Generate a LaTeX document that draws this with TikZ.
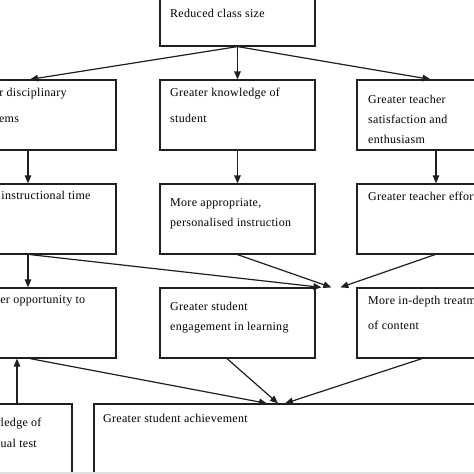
\documentclass[tikz,border=0pt]{standalone}
\usepackage{fontspec}
\setmainfont{Liberation Serif}[LetterSpace=2.5]
\usetikzlibrary{arrows.meta}
\begin{document}
\begin{tikzpicture}[x=1pt,y=-1pt,
  box/.style={draw=black!88, line width=1.2pt, minimum width=155pt, minimum height=70pt, inner sep=0pt, anchor=center},
  txt/.style={anchor=north west, inner sep=0pt, align=left, text=black},
  conn/.style={draw=black!88, line width=1.2pt, -{Triangle[length=8pt,width=6.5pt]}}]
\path[use as bounding box] (0,0) rectangle (474,474);
\clip (0,0) rectangle (474,474);
\fill[white] (0,0) rectangle (474,474);
% boxes
\node[box, minimum height=66pt] (top) at (237.5,13) {};
\node[box] (r1l) at (38.5,115) {};
\node[box] (r1m) at (237.5,115) {};
\node[box] (r1r) at (434.5,115) {};
\node[box] (r2l) at (38.5,219) {};
\node[box] (r2m) at (237.5,219) {};
\node[box] (r2r) at (434.5,219) {};
\node[box] (r3l) at (38.5,323) {};
\node[box] (r3m) at (237.5,323) {};
\node[box] (r3r) at (434.5,323) {};
\node[box, minimum height=76pt] (r4l) at (-5.5,442) {};
\node[box, minimum height=76pt, minimum width=426pt] (r4b) at (307,442) {};
% texts
\node[txt, font=\fontsize{12}{20}\selectfont] (t0) at (170,9.1) {Reduced class size};
\node[txt, font=\fontsize{12}{26}\selectfont] (t1l) at (-28,87.8) {Fewer disciplinary\\problems};
\node[txt, font=\fontsize{12}{26}\selectfont] (t1m) at (170,87.8) {Greater knowledge of\\student};
\node[txt, font=\fontsize{12}{20.3}\selectfont] (t1r) at (368,94.5) {Greater teacher\\satisfaction and\\enthusiasm};
\node[txt, font=\fontsize{12}{20}\selectfont] (t2l) at (-29,191.1) {More instructional time};
\node[txt, font=\fontsize{12}{20}\selectfont] (t2m) at (170,198.5) {More appropriate,\\personalised instruction};
\node[txt, font=\fontsize{12}{20}\selectfont] (t2r) at (368,191.8) {Greater teacher effort};
\node[txt, font=\fontsize{12}{20}\selectfont] (t3l) at (-28,295.8) {Greater opportunity to};
\node[txt, font=\fontsize{12}{20}\selectfont] (t3m) at (170,301.8) {Greater student\\engagement in learning};
\node[txt, font=\fontsize{12}{25.5}\selectfont] (t3r) at (368,295.8) {More in-depth treatment\\of content};
\node[txt, font=\fontsize{12}{21}\selectfont] (t4l) at (0.5,417.5) {\llap{Teacher know}ledge of\\\llap{individ}ual test};
\node[txt, font=\fontsize{12}{20}\selectfont] (t4b) at (103,413.5) {Greater student achievement};
% connectors
\draw[conn] (top.south) -- ([xshift=-8.5pt]r1l.north);
\draw[conn] (top.south) -- (r1m.north);
\draw[conn] (top.south) -- ([xshift=-4pt]r1r.north);
\draw[conn] ([xshift=-10.5pt]r1l.south) -- ([xshift=-10.5pt]r2l.north);
\draw[conn] (r1m.south) -- (r2m.north);
\draw[conn] ([xshift=1.5pt]r1r.south) -- ([xshift=1.5pt]r2r.north);
\draw[conn] ([xshift=-10.5pt]r2l.south) -- ([xshift=-10.5pt]r3l.north);
\draw[conn] ([xshift=-8.5pt]r2l.south) -- ([xshift=-35pt]r3r.north west);
\draw[conn] (r2m.south) -- ([xshift=-25pt]r3r.north west);
\draw[conn] ([xshift=0.5pt]r2r.south) -- ([xshift=-16pt]r3r.north west);
\draw[conn] ([xshift=-8.5pt]r3l.south) -- ([xshift=-40pt]r4b.north);
\draw[conn] ([xshift=-10.5pt]r3m.south) -- ([xshift=-29pt]r4b.north);
\draw[conn] ([xshift=-12.5pt]r3r.south) -- ([xshift=-22pt]r4b.north);
\draw[conn] ([xshift=22.5pt]r4l.north) -- ([xshift=-21.5pt]r3l.south);
\fill[black!12] (0,472) rectangle (474,474);
\end{tikzpicture}
\end{document}
